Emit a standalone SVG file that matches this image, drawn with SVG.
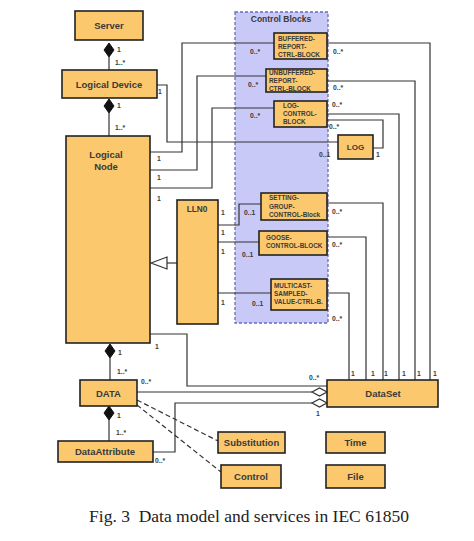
<svg xmlns="http://www.w3.org/2000/svg" width="474" height="541" viewBox="0 0 474 541">
<style>
.box{fill:#FBC86E;stroke:#222;stroke-width:1.6}
.t{font-family:"Liberation Sans",Arial,sans-serif;font-weight:bold;fill:#3a3a3a}
.n{font-size:9.5px;text-anchor:middle}
.s{font-size:6.4px}
.l{font-family:"Liberation Sans",Arial,sans-serif;font-weight:bold;fill:#3a3a3a;font-size:6.8px}
.w{fill:none;stroke:#333;stroke-width:1.2}
.d{stroke-dasharray:5,3}
.fd{fill:#111;stroke:#111;stroke-width:1}
.hd{fill:#fff;stroke:#333;stroke-width:1.2}
</style>
<rect width="474" height="541" fill="#fff"/>
<g id="control-blocks-area">
<rect x="235" y="12" width="93" height="311" fill="#C9C9F8" stroke="#6B6BB5" stroke-width="1.3" stroke-dasharray="3,2"/>
<text class="t" x="281" y="22" font-size="8.5" text-anchor="middle">Control Blocks</text>
</g>
<g id="connectors">
<line class="w" x1="109" y1="57" x2="109" y2="70"/>
<polygon class="fd" points="109,43 114,50 109,57 104,50"/>
<line class="w" x1="109" y1="113" x2="109" y2="136"/>
<polygon class="fd" points="109,99 114,106 109,113 104,106"/>
<polyline class="w" points="157,85 167,85 167,142 338,142"/>
<polyline class="w" points="150,152 182,152 182,43 274,43"/>
<polyline class="w" points="150,170 197,170 197,76 266,76"/>
<polyline class="w" points="150,188 212,188 212,108 274,108"/>
<polyline class="w" points="327,43 430,43 430,380"/>
<polyline class="w" points="327,81 415,81 415,380"/>
<polyline class="w" points="327,114 399,114 399,380"/>
<polyline class="w" points="327,120 383,120 383,148 373,148"/>
<polyline class="w" points="327,203 383,203 383,380"/>
<polyline class="w" points="327,237 366,237 366,380"/>
<polyline class="w" points="327,293 349,293 349,380"/>
<polyline class="w" points="218,225 239,225 239,204 261,204"/>
<line class="w" x1="218" y1="242" x2="259" y2="242"/>
<line class="w" x1="218" y1="293" x2="271" y2="293"/>
<line class="w" x1="167" y1="263" x2="177" y2="263"/>
<polygon class="hd" points="151,263 167,257 167,269"/>
<polyline class="w" points="150,334 187,334 187,386 327,386"/>
<line class="w" x1="110" y1="358" x2="110" y2="380"/>
<polygon class="fd" points="110,344 115,351 110,358 105,351"/>
<line class="w" x1="137" y1="392" x2="312" y2="392"/>
<polygon class="hd" points="312,392 319.5,388 327,392 319.5,396"/>
<polyline class="w" points="153,452 175,452 175,403 312,403"/>
<polygon class="hd" points="312,403 319.5,399 327,403 319.5,407"/>
<line class="w" x1="109" y1="420" x2="109" y2="441"/>
<polygon class="fd" points="109,406 114,413 109,420 104,413"/>
<line class="w d" x1="137" y1="400" x2="218" y2="441"/>
<line class="w d" x1="137" y1="405" x2="221" y2="472"/>
</g>
<g id="labels">
<text class="l" x="117" y="52">1</text>
<text class="l" x="115" y="65">1..*</text>
<text class="l" x="158" y="94">1</text>
<text class="l" x="117" y="108">1</text>
<text class="l" x="115" y="130">1..*</text>
<text class="l" x="157" y="161">1</text>
<text class="l" x="157" y="180">1</text>
<text class="l" x="157" y="201">1</text>
<text class="l" x="250" y="54">0..*</text>
<text class="l" x="248" y="87">0..*</text>
<text class="l" x="250" y="118">0..*</text>
<text class="l" x="333" y="54">0..*</text>
<text class="l" x="333" y="90">0..*</text>
<text class="l" x="332" y="107">0..*</text>
<text class="l" x="329" y="129">0..*</text>
<text class="l" x="319" y="157">0..1</text>
<text class="l" x="376" y="157">1</text>
<text class="l" x="221" y="215">1</text>
<text class="l" x="221" y="235">1</text>
<text class="l" x="221" y="254">1</text>
<text class="l" x="221" y="305">1</text>
<text class="l" x="244" y="215">0..1</text>
<text class="l" x="242" y="257">0..1</text>
<text class="l" x="252" y="306">0..1</text>
<text class="l" x="332" y="214">0..*</text>
<text class="l" x="332" y="247">0..*</text>
<text class="l" x="332" y="321">0..*</text>
<text class="l" x="351" y="376">1</text>
<text class="l" x="371" y="376">1</text>
<text class="l" x="384" y="376">1</text>
<text class="l" x="402" y="376">1</text>
<text class="l" x="417" y="376">1</text>
<text class="l" x="433" y="376">1</text>
<text class="l" x="155" y="349">1</text>
<text class="l" x="309" y="380">0..*</text>
<text class="l" x="118" y="355">1</text>
<text class="l" x="117" y="374">1..*</text>
<text class="l" x="141" y="384">0..*</text>
<text class="l" x="316" y="416">1</text>
<text class="l" x="117" y="418">1</text>
<text class="l" x="116" y="435">1..*</text>
<text class="l" x="155" y="463">0..*</text>
</g>
<g id="server"><rect class="box" x="75" y="11" width="68" height="29"/><text class="t n" x="109" y="29">Server</text></g>
<g id="logical-device"><rect class="box" x="62" y="70" width="95" height="28"/><text class="t n" x="109" y="88">Logical Device</text></g>
<g id="logical-node"><rect class="box" x="66" y="136" width="84" height="207"/><text class="t n" x="106" y="158">Logical</text><text class="t n" x="106" y="170">Node</text></g>
<g id="buffered"><rect class="box" x="274" y="33" width="53" height="26"/><text class="t s" x="278" y="40.5">BUFFERED-</text><text class="t s" x="278" y="48.5">REPORT-</text><text class="t s" x="278" y="57">CTRL-BLOCK</text></g>
<g id="unbuffered"><rect class="box" x="266" y="69" width="61" height="23"/><text class="t s" x="269" y="75">UNBUFFERED-</text><text class="t s" x="269" y="82.5">REPORT-</text><text class="t s" x="269" y="90.5">CTRL-BLOCK</text></g>
<g id="log-control"><rect class="box" x="274" y="101" width="53" height="26"/><text class="t s" x="283" y="108">LOG-</text><text class="t s" x="283" y="116">CONTROL-</text><text class="t s" x="283" y="124">BLOCK</text></g>
<g id="log"><rect class="box" x="338" y="135" width="35" height="24"/><text class="t" x="355.5" y="150" font-size="8" text-anchor="middle">LOG</text></g>
<g id="lln0"><rect class="box" x="177" y="200" width="41" height="124"/><text class="t" x="197" y="212" font-size="8.3" text-anchor="middle">LLN0</text></g>
<g id="setting-group"><rect class="box" x="261" y="193" width="66" height="27"/><text class="t s" x="269" y="200">SETTING-</text><text class="t s" x="269" y="208.5">GROUP-</text><text class="t s" x="269" y="217">CONTROL-Block</text></g>
<g id="goose"><rect class="box" x="259" y="231" width="68" height="24"/><text class="t s" x="266" y="239.5">GOOSE-</text><text class="t s" x="266" y="247.5">CONTROL-BLOCK</text></g>
<g id="multicast"><rect class="box" x="271" y="279" width="56" height="31"/><text class="t s" x="274" y="288">MULTICAST-</text><text class="t s" x="274" y="296">SAMPLED-</text><text class="t s" x="274" y="304">VALUE-CTRL-B.</text></g>
<g id="dataset"><rect class="box" x="327" y="380" width="111" height="27"/><text class="t n" x="383" y="397" font-size="10">DataSet</text></g>
<g id="data"><rect class="box" x="80" y="380" width="57" height="26"/><text class="t n" x="108.5" y="396.5">DATA</text></g>
<g id="data-attribute"><rect class="box" x="58" y="441" width="95" height="21"/><text class="t n" x="105" y="455">DataAttribute</text></g>
<g id="substitution"><rect class="box" x="218" y="432" width="67" height="21"/><text class="t n" x="251.5" y="446">Substitution</text></g>
<g id="control"><rect class="box" x="221" y="465" width="60" height="23"/><text class="t n" x="251" y="480">Control</text></g>
<g id="time"><rect class="box" x="326" y="432" width="59" height="21"/><text class="t n" x="355.5" y="446">Time</text></g>
<g id="file"><rect class="box" x="326" y="465" width="59" height="23"/><text class="t n" x="355.5" y="480">File</text></g>
<text x="249" y="522" font-family="'Liberation Serif','Times New Roman',serif" font-size="17.5" fill="#222" text-anchor="middle" xml:space="preserve">Fig. 3  Data model and services in IEC 61850</text>
</svg>
